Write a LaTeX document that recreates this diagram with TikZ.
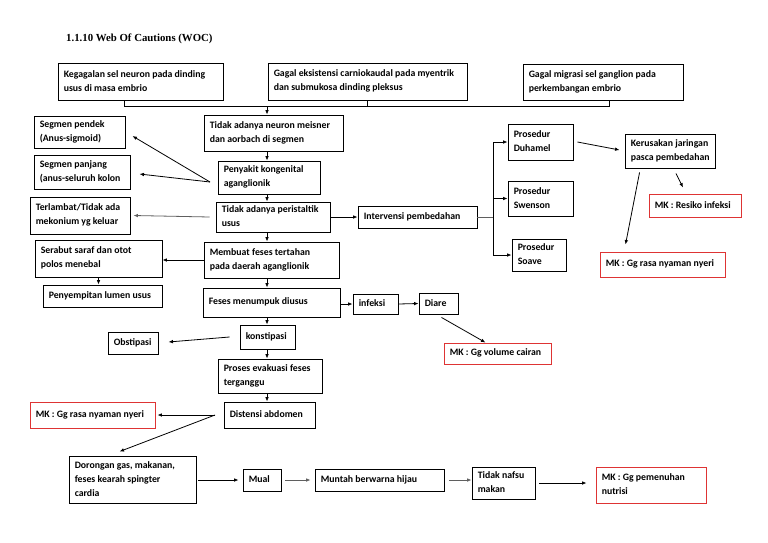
\documentclass[tikz,border=0pt]{standalone}
\usepackage{fontspec}
\setmainfont{Carlito}
\newfontfamily\titlefont{Liberation Serif}
\usetikzlibrary{arrows.meta,calc}
\definecolor{mkred}{RGB}{222,52,52}
\definecolor{lgray}{RGB}{95,95,95}
\tikzset{
  bx/.style={draw=black,line width=0.9pt,inner sep=0pt},
  rbx/.style={draw=mkred,line width=0.9pt,inner sep=0pt},
  txt/.style={inner sep=0pt,align=left,font=\fontsize{9.8}{14}\selectfont\bfseries},
  arr/.style={draw=black,line width=0.8pt,-{Latex[length=4.5pt,width=3.6pt]}},
  ln/.style={draw=black,line width=0.8pt},
}
\newcommand\mybox[7][bx]{%
  \pgfmathsetmacro\bw{#5-#3}\pgfmathsetmacro\bh{#6-#4}%
  \node[#1,minimum width=\bw pt,minimum height=\bh pt] (#2) at ({(#3+#5)/2},{(#4+#6)/2}) {};
  \node[txt,anchor=west] (#2-t) at ([xshift=6pt,yshift=0.5pt]#2.west) {#7};}
\begin{document}
\begin{tikzpicture}[x=1pt,y=-1pt]
\useasboundingbox[fill=white] (0,0) rectangle (768,543);
\node[anchor=west,inner sep=0pt,font=\titlefont\fontsize{10.8}{13}\selectfont\bfseries] (title) at (66,39) {1.1.10 Web Of Cautions (WOC)};
% top row
\mybox{k}{58}{63}{223}{100}{Kegagalan sel neuron pada dinding\\usus di masa embrio}
\mybox{g}{268}{63}{467}{100}{Gagal eksistensi carniokaudal pada myentrik\\dan submukosa dinding pleksus}
\mybox{m}{523}{64}{683}{100}{Gagal migrasi sel ganglion pada\\perkembangan embrio}
% main chain
\mybox{n4}{204}{115}{343}{151}{Tidak adanya neuron meisner\\dan aorbach di segmen}
\mybox{n5}{218}{161}{320}{194}{Penyakit kongenital\\aganglionik}
\mybox{n6}{216}{202}{330}{232}{Tidak adanya peristaltik\\usus}
\mybox{n7}{204}{242}{339}{278}{Membuat feses tertahan\\pada daerah aganglionik}
\mybox{n8}{203}{288}{340}{317}{Feses menumpuk diusus}
\mybox{ko}{240}{325}{295}{349}{konstipasi}
\mybox{pr}{218}{359}{322}{393}{Proses evakuasi feses\\terganggu}
\mybox{dis}{224}{402}{315}{428}{Distensi abdomen}
% left column
\mybox{sp}{34}{116}{125}{148}{Segmen pendek\\(Anus-sigmoid)}
\mybox{spj}{34}{155}{130}{189}{Segmen panjang\\(anus-seluruh kolon}
\mybox{tl}{30}{197}{130}{234}{Terlambat/Tidak ada\\mekonium yg keluar}
\mybox{sr}{35}{240}{162}{277}{Serabut saraf dan otot\\polos menebal}
\mybox{pl}{43}{285}{162}{307}{Penyempitan lumen usus}
\mybox{ob}{108}{332}{158}{354}{Obstipasi}
\mybox[rbx]{mkl}{30}{402}{155}{428}{MK : Gg rasa nyaman nyeri}
% middle right
\mybox{iv}{358}{206}{477}{228}{Intervensi pembedahan}
\mybox{inf}{353}{294}{398}{314}{infeksi}
\mybox{dia}{419}{293}{458}{314}{Diare}
\mybox[rbx]{vol}{444}{343}{551}{364}{MK : Gg volume cairan}
% procedures
\mybox{du}{508}{124}{573}{160}{Prosedur\\Duhamel}
\mybox{sw}{508}{181}{573}{216}{Prosedur\\Swenson}
\mybox{so}{512}{239}{566}{271}{Prosedur\\Soave}
\mybox{ke}{625}{134}{715}{168}{Kerusakan jaringan\\pasca pembedahan}
\mybox[rbx]{ri}{649}{194}{741}{217}{MK : Resiko infeksi}
\mybox[rbx]{nr}{600}{252}{725}{277}{MK : Gg rasa nyaman nyeri}
% bottom row
\mybox{dor}{69}{456}{196}{503}{Dorongan gas, makanan,\\feses kearah spingter\\cardia}
\mybox{mu}{243}{469}{281}{491}{Mual}
\mybox{mt}{315}{469}{444}{491}{Muntah berwarna hijau}
\mybox{tn}{472}{467}{535}{499}{Tidak nafsu\\makan}
\mybox[rbx]{nu}{596}{467}{706}{503}{MK : Gg pemenuhan\\nutrisi}
% coordinates
\coordinate (bL) at (124,106);
\coordinate (bR) at (609,106);
\coordinate (cx) at (267,0);
\coordinate (p5) at (210,182);
\coordinate (pd) at (215,415);
\coordinate (bus) at (493,217);
% top bus
\draw[ln] (bL |- k.south) -- (bL) -- (bR) -- (bR |- m.south);
\draw[ln] (g.south) -- (g.south |- bL);
\draw[arr] (bL -| cx) -- (n4.north -| cx);
% chain
\draw[arr] (n4.south -| cx) -- (n5.north -| cx);
\draw[arr] (n5.south -| cx) -- (n6.north -| cx);
\draw[arr] (n6.south -| cx) -- (n7.north -| cx);
\draw[arr] (n7.south -| cx) -- (n8.north -| cx);
\draw[arr] (n8.south -| cx) -- (ko.north -| cx);
\draw[arr] (ko.south -| cx) -- (pr.north -| cx);
\draw[arr] (pr.south -| cx) -- (dis.north -| cx);
% left side arrows
\draw[arr] (p5) -- ([xshift=7pt,yshift=-4pt]sp.east);
\draw[arr] (p5) -- ([xshift=9pt,yshift=-2pt]spj.east);
\draw[arr,draw=lgray] ([xshift=-6pt]n6.west) -- ([xshift=3pt]tl.east);
\draw[arr] (n7.west) -- (n7.west -| sr.east);
\draw[arr] (sr.south) -- (sr.south |- pl.north);
\draw[arr] ([xshift=-10pt]ko.west) -- ([xshift=10pt,yshift=1pt]ob.east);
\draw[arr] (pd) -- ([xshift=2pt]mkl.east);
\draw[arr] (pd) -- ([xshift=-13pt,yshift=4pt]dor.north);
% right of chain
\draw[arr] (n6.east |- iv.west) -- (iv.west);
\draw[arr] (n8.east |- inf.west) -- (inf.west);
\draw[arr] (inf.east) -- (dia.west);
\draw[arr] ([xshift=3pt,yshift=-3pt]dia.south) -- ([xshift=-12pt]vol.north);
% procedures bus
\draw[ln,draw=lgray] (iv.east) -- (bus);
\draw[ln] (bus |- du.west) -- (bus |- so.west);
\draw[arr] (bus |- du.west) -- (du.west);
\draw[arr] (bus |- sw.west) -- (sw.west);
\draw[arr] (bus |- so.west) -- (so.west);
\draw[arr] ([xshift=4pt]du.east) -- ([xshift=-5pt,yshift=1pt]ke.west);
\draw[arr] ([xshift=6pt,yshift=-5pt]ke.south) -- ([xshift=-12pt,yshift=6pt]ri.north);
\draw[arr] ([xshift=15pt,yshift=-4pt]ke.south west) -- ([xshift=-37pt,yshift=7pt]nr.north);
% bottom row
\draw[arr] ([xshift=2pt]dor.east |- mu.west) -- ([xshift=-4pt]mu.west);
\draw[arr,draw=lgray] ([xshift=4pt]mu.east) -- ([xshift=-4pt]mt.west);
\draw[arr,draw=lgray] ([xshift=5pt]mt.east) -- (tn.west |- mt.east);
\draw[arr] ([xshift=4pt]tn.east) -- ([xshift=-9pt]nu.west |- tn.east);
\end{tikzpicture}
\end{document}
